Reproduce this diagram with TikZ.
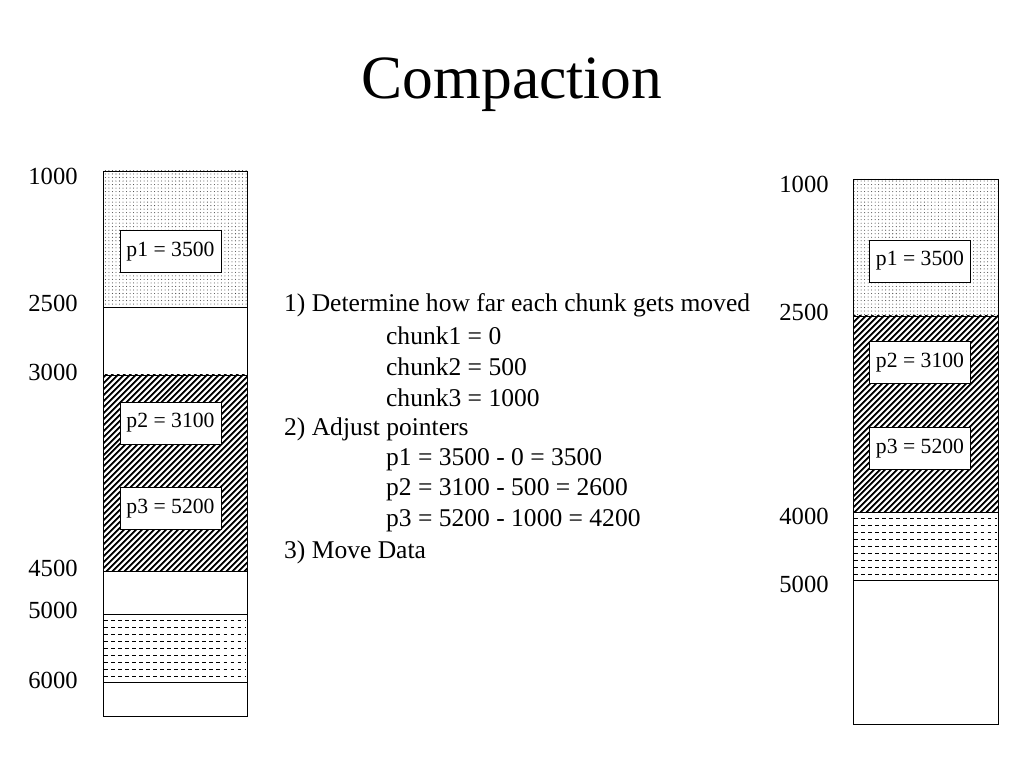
\documentclass[tikz,border=0pt]{standalone}
\usepackage{fontspec}
\setmainfont{Liberation Serif}
\usetikzlibrary{patterns,patterns.meta}
\tikzset{
  col/.style={draw,line width=0.6pt},
  dotfill/.style={col,pattern={Dots[distance=3pt,radius=0.45pt]},pattern color=black!75},
  hatchfill/.style={col,pattern={Lines[angle=45,distance=4pt,line width=1.9pt]}},
  ptr/.style={draw,fill=white,minimum width=3.03cm,minimum height=1.26cm,inner sep=0pt,font=\fontsize{18.5}{20}\selectfont},
  addr/.style={font=\fontsize{21}{23}\selectfont},
  stepline/.style={anchor=west,font=\fontsize{21.8}{24}\selectfont}
}
\begin{document}
\begin{tikzpicture}[x=0.03cm,y=-0.03cm]
  \useasboundingbox (0,0) rectangle (1024,768);
  \node (title) at (512,85) {\fontsize{52.5}{56}\selectfont Compaction};

  % memory before
  \draw[dotfill] (103,171) rectangle (247,307);
  \draw[col] (103,307) rectangle (247,375);
  \draw[hatchfill] (103,375) rectangle (247,571);
  \draw[col] (103,571) rectangle (247,614);
  \draw[col] (103,614) rectangle (247,682);
  \foreach \y in {620,627,...,680} \draw[dashed,line width=0.5pt] (104,\y) -- (246,\y);
  \draw[col] (103,682) rectangle (247,716);
  \node[ptr] (p1a) at (170.5,251.5) {p1 = 3500};
  \node[ptr] (p2a) at (170.5,423) {p2 = 3100};
  \node[ptr] (p3a) at (170.5,508.5) {p3 = 5200};
  \node[addr] (a1) at (53,176) {1000};
  \node[addr] (a2) at (53,303) {2500};
  \node[addr] (a3) at (53,372) {3000};
  \node[addr] (a4) at (53,568) {4500};
  \node[addr] (a5) at (53,610) {5000};
  \node[addr] (a6) at (53,680) {6000};

  % steps
  \node[stepline] (s1) at (280,305) {1) Determine how far each chunk gets moved};
  \node[stepline] (s2) at (382,336) {chunk1 = 0};
  \node[stepline] (s3) at (382,367) {chunk2 = 500};
  \node[stepline] (s4) at (382,398) {chunk3 = 1000};
  \node[stepline] (s5) at (280,429) {2) Adjust pointers};
  \node[stepline] (s6) at (382,460) {p1 = 3500 - 0 = 3500};
  \node[stepline] (s7) at (382,490) {p2 = 3100 - 500 = 2600};
  \node[stepline] (s8) at (382,521) {p3 = 5200 - 1000 = 4200};
  \node[stepline] (s9) at (280,552) {3) Move Data};

  % memory after
  \draw[dotfill] (853,179) rectangle (998,316);
  \draw[hatchfill] (853,316) rectangle (998,512);
  \draw[col] (853,512) rectangle (998,580);
  \foreach \y in {518,525,...,578} \draw[dashed,line width=0.5pt] (854,\y) -- (997,\y);
  \draw[col] (853,580) rectangle (998,724);
  \node[ptr] (p1b) at (920,261) {p1 = 3500};
  \node[ptr] (p2b) at (920,362.5) {p2 = 3100};
  \node[ptr] (p3b) at (920,448.5) {p3 = 5200};
  \node[addr] (b1) at (804,184) {1000};
  \node[addr] (b2) at (804,312) {2500};
  \node[addr] (b3) at (804,516) {4000};
  \node[addr] (b4) at (804,584) {5000};
\end{tikzpicture}
\end{document}
